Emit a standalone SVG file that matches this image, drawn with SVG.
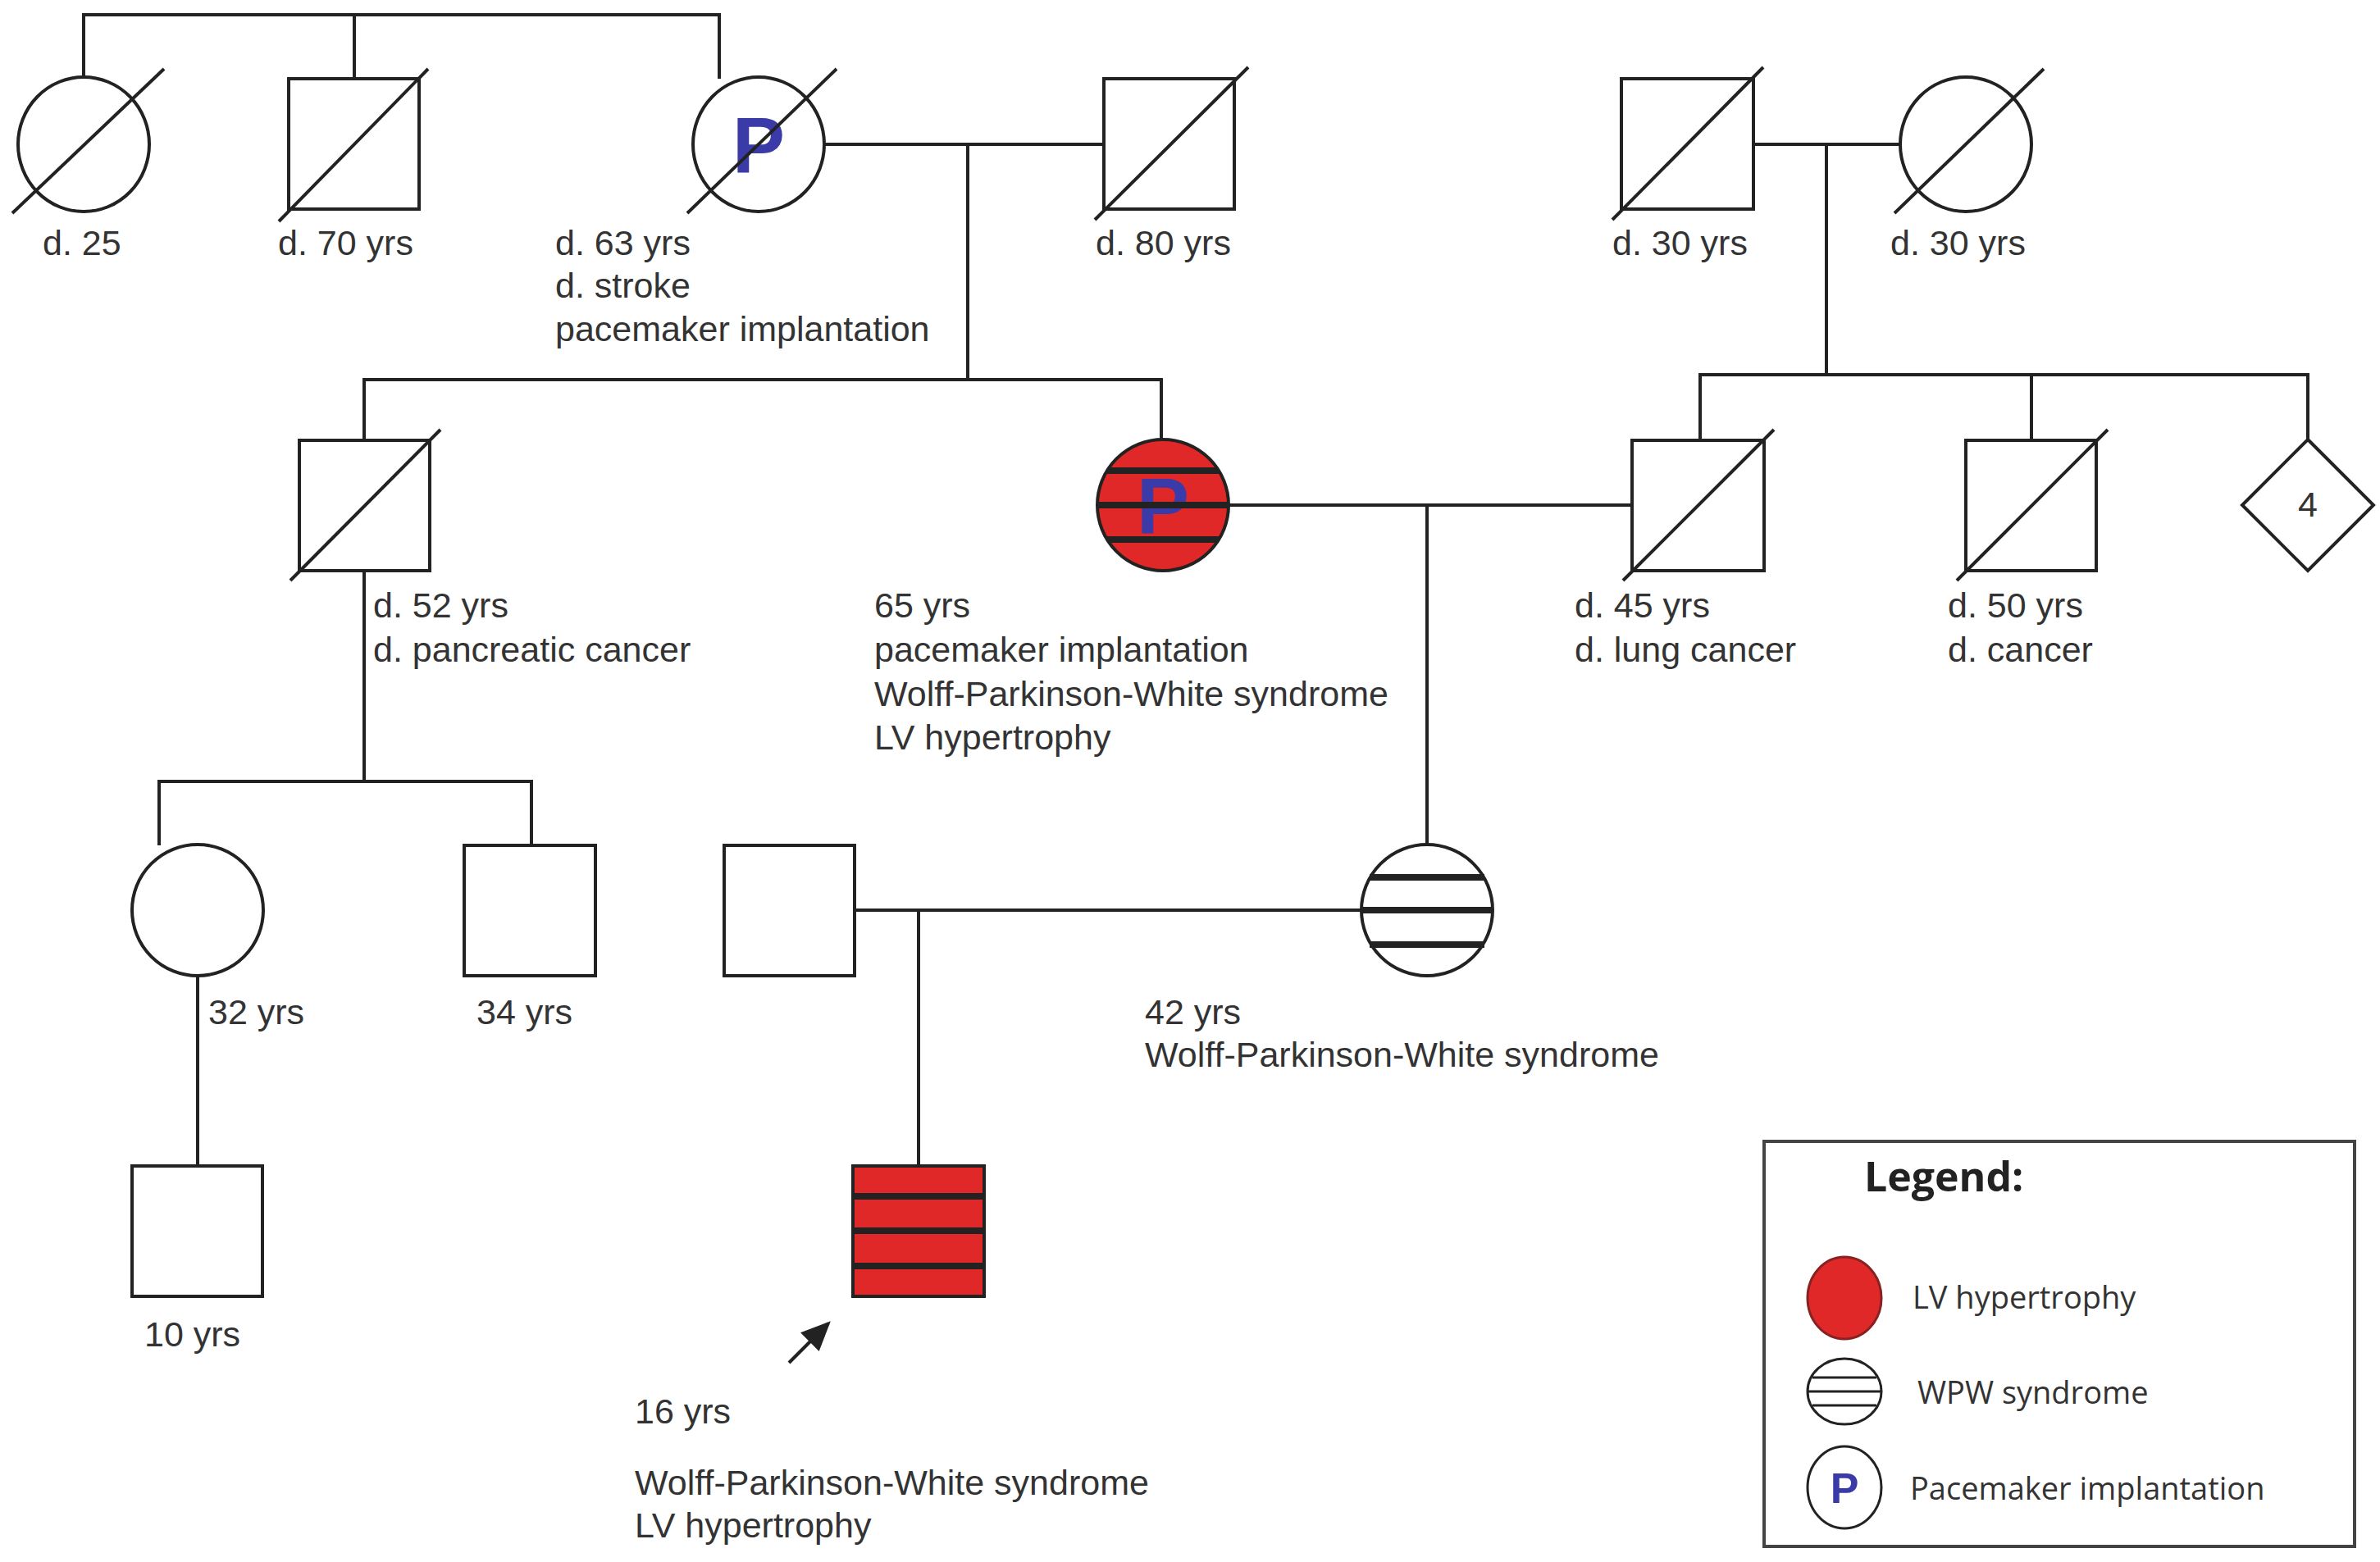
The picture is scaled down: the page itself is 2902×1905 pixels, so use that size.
<svg xmlns="http://www.w3.org/2000/svg" width="2902" height="1905" viewBox="0 0 2902 1905">
<style>
.s{fill:none;stroke:#222;stroke-width:4}
.n{fill:#fff;stroke:#222;stroke-width:4}
.r{fill:#e02828;stroke:#222;stroke-width:4}
.t{font-family:"Liberation Sans",Arial,sans-serif;font-size:43px;fill:#333}
.l{font-family:"Open Sans","Liberation Sans",sans-serif;font-size:38px;fill:#333}
.p{font-family:"Liberation Sans",Arial,sans-serif;font-weight:bold;fill:#3a3aa8}
.st{stroke:#222;stroke-width:8}
</style>
<defs><marker id="ah" markerWidth="10" markerHeight="10" refX="8" refY="5" orient="auto" markerUnits="strokeWidth"><path d="M0,1 L9,5 L0,9 z" fill="#222"/></marker></defs>
<rect width="2902" height="1905" fill="#fff"/>
<g id="connectors" class="s">
<path d="M102,96 V18 H877 V96 M432,18 V96"/>
<path d="M1005,176 H1346 M1180,176 V463 M444,537 V463 H1416 V536"/>
<path d="M2138,176 H2317 M2227,176 V457 M2073,537 V457 H2814 V536 M2477,457 V537"/>
<path d="M1499,616 H1990 M1740,616 V1031"/>
<path d="M444,696 V953 M194,1031 V953 H648 V1031"/>
<path d="M1042,1110 H1660 M1120,1110 V1422"/>
<path d="M241,1190 V1422"/>
<path d="M962,1662 L1010,1614" marker-end="url(#ah)"/>
</g>
<g id="g1a"><ellipse class="n" cx="102" cy="176" rx="80" ry="82"/><line class="s" x1="15" y1="260" x2="200" y2="84"/><text class="t" x="52" y="311">d. 25</text></g>
<g id="g1b"><rect class="n" x="352" y="96" width="159" height="159"/><line class="s" x1="340" y1="270" x2="522" y2="84"/><text class="t" x="339" y="311">d. 70 yrs</text></g>
<g id="g1c"><ellipse class="n" cx="925" cy="176" rx="80" ry="82"/><text class="p" x="925" y="210" font-size="96" text-anchor="middle">P</text><line class="s" x1="838" y1="260" x2="1020" y2="84"/><text class="t" x="677" y="311">d. 63 yrs</text><text class="t" x="677" y="363">d. stroke</text><text class="t" x="677" y="416">pacemaker implantation</text></g>
<g id="g1d"><rect class="n" x="1346" y="96" width="159" height="159"/><line class="s" x1="1335" y1="268" x2="1522" y2="82"/><text class="t" x="1336" y="311">d. 80 yrs</text></g>
<g id="g1e"><rect class="n" x="1977" y="96" width="161" height="159"/><line class="s" x1="1966" y1="268" x2="2150" y2="82"/><text class="t" x="1966" y="311">d. 30 yrs</text></g>
<g id="g1f"><ellipse class="n" cx="2397" cy="176" rx="80" ry="82"/><line class="s" x1="2310" y1="260" x2="2492" y2="84"/><text class="t" x="2305" y="311">d. 30 yrs</text></g>
<g id="g2a"><rect class="n" x="365" y="537" width="159" height="159"/><line class="s" x1="354" y1="708" x2="537" y2="524"/><text class="t" x="455" y="753">d. 52 yrs</text><text class="t" x="455" y="807">d. pancreatic cancer</text></g>
<g id="g2b"><ellipse class="r" cx="1418" cy="616" rx="80" ry="80"/><text class="p" x="1418" y="650" font-size="96" text-anchor="middle">P</text>
<line class="st" x1="1350" y1="574" x2="1486" y2="574"/><line class="st" x1="1339" y1="616" x2="1497" y2="616"/><line class="st" x1="1350" y1="658" x2="1486" y2="658"/>
<text class="t" x="1066" y="753">65 yrs</text><text class="t" x="1066" y="807">pacemaker implantation</text><text class="t" x="1066" y="861">Wolff-Parkinson-White syndrome</text><text class="t" x="1066" y="914">LV hypertrophy</text></g>
<g id="g2c"><rect class="n" x="1990" y="537" width="161" height="159"/><line class="s" x1="1979" y1="708" x2="2163" y2="524"/><text class="t" x="1920" y="753">d. 45 yrs</text><text class="t" x="1920" y="807">d. lung cancer</text></g>
<g id="g2d"><rect class="n" x="2397" y="537" width="159" height="159"/><line class="s" x1="2386" y1="708" x2="2570" y2="524"/><text class="t" x="2375" y="753">d. 50 yrs</text><text class="t" x="2375" y="807">d. cancer</text></g>
<g id="g2e"><path class="n" d="M2814,536 L2894,616 L2814,696 L2734,616 Z"/><text class="t" x="2814" y="630" font-size="34" text-anchor="middle">4</text></g>
<g id="g3a"><ellipse class="n" cx="241" cy="1110" rx="80" ry="80"/><text class="t" x="254" y="1249">32 yrs</text></g>
<g id="g3b"><rect class="n" x="566" y="1031" width="160" height="159"/><text class="t" x="581" y="1249">34 yrs</text></g>
<g id="g3c"><rect class="n" x="883" y="1031" width="159" height="159"/></g>
<g id="g3d"><ellipse class="n" cx="1740" cy="1110" rx="80" ry="80"/>
<line class="st" x1="1670" y1="1070" x2="1810" y2="1070"/><line class="st" x1="1660" y1="1110" x2="1820" y2="1110"/><line class="st" x1="1670" y1="1152" x2="1810" y2="1152"/>
<text class="t" x="1396" y="1249">42 yrs</text><text class="t" x="1396" y="1301">Wolff-Parkinson-White syndrome</text></g>
<g id="g4a"><rect class="n" x="161" y="1422" width="159" height="159"/><text class="t" x="176" y="1642">10 yrs</text></g>
<g id="g4b"><rect class="r" x="1040" y="1422" width="160" height="159"/>
<line class="st" x1="1040" y1="1459" x2="1200" y2="1459"/><line class="st" x1="1040" y1="1501" x2="1200" y2="1501"/><line class="st" x1="1040" y1="1544" x2="1200" y2="1544"/>
<text class="t" x="774" y="1736">16 yrs</text><text class="t" x="774" y="1823">Wolff-Parkinson-White syndrome</text><text class="t" x="774" y="1875">LV hypertrophy</text></g>
<g id="legend">
<rect x="2151" y="1392" width="720" height="494" fill="#fff" stroke="#444" stroke-width="4"/>
<text x="2273" y="1453" font-family="Open Sans,Liberation Sans,sans-serif" font-weight="bold" font-size="50" fill="#222">Legend:</text>
<ellipse cx="2249" cy="1583" rx="45" ry="50" fill="#e02828" stroke="#822" stroke-width="3"/>
<text class="l" x="2332" y="1596">LV hypertrophy</text>
<ellipse cx="2249" cy="1697" rx="45" ry="40" fill="#fff" stroke="#222" stroke-width="3"/>
<line x1="2210" y1="1680" x2="2288" y2="1680" stroke="#222" stroke-width="3"/><line x1="2205" y1="1697" x2="2293" y2="1697" stroke="#222" stroke-width="3"/><line x1="2210" y1="1714" x2="2288" y2="1714" stroke="#222" stroke-width="3"/>
<text class="l" x="2338" y="1712">WPW syndrome</text>
<ellipse cx="2249" cy="1814" rx="45" ry="50" fill="#fff" stroke="#222" stroke-width="3"/>
<text class="p" x="2249" y="1833" font-size="52" text-anchor="middle">P</text>
<text class="l" x="2329" y="1829">Pacemaker implantation</text>
</g>
</svg>
